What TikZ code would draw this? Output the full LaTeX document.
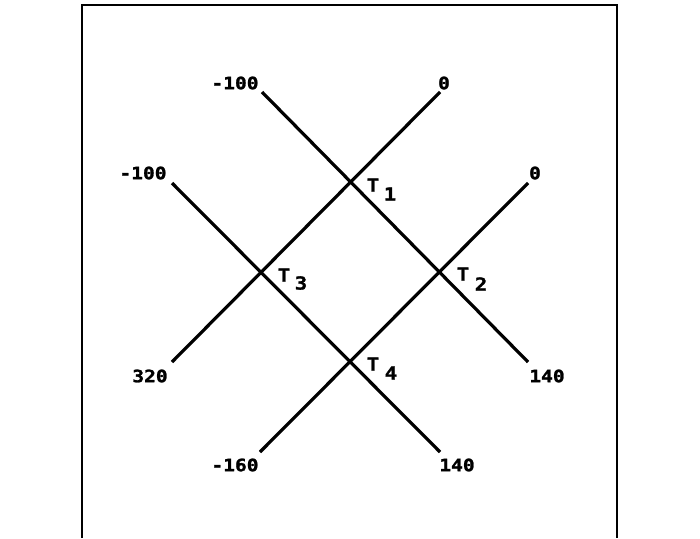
\documentclass[tikz,border=0pt]{standalone}
\usepackage{fontspec}
\newfontfamily\lblfont{DejaVu Sans Mono}[FakeStretch=1.15,FakeBold=1.5]
\begin{document}
\begin{tikzpicture}[x=1pt,y=-1pt,
  wire/.style={line width=3.2pt},
  lbl/.style={font=\lblfont\bfseries\fontsize{17}{17}\selectfont, inner sep=0pt},
  tl/.style={font=\lblfont\bfseries\fontsize{18}{18}\selectfont, inner sep=0pt}]
\useasboundingbox (0,0) rectangle (700,538);
\fill[white] (0,0) rectangle (700,538);
\draw[line width=2.4pt] (82,538) -- (82,5) -- (617,5) -- (617,538);
% end points
\coordinate (a1) at (262,92);  \coordinate (a2) at (528,362);
\coordinate (b1) at (440,92);  \coordinate (b2) at (172,362);
\coordinate (c1) at (172,183); \coordinate (c2) at (440,452);
\coordinate (d1) at (528,183); \coordinate (d2) at (260,452);
\draw[wire] (a1) -- (a2);
\draw[wire] (b1) -- (b2);
\draw[wire] (c1) -- (c2);
\draw[wire] (d1) -- (d2);
% end labels
\node[lbl] (la1) at (235,83) {-100};
\node[lbl] (lb1) at (444,83) {0};
\node[lbl] (lc1) at (143,173) {-100};
\node[lbl] (ld1) at (535,173) {0};
\node[lbl] (lb2) at (150,376) {320};
\node[lbl] (la2) at (547,376) {140};
\node[lbl] (ld2) at (235,465) {-160};
\node[lbl] (lc2) at (457,465) {140};
% crossing labels
\node[tl] (t1) at (373,185) {T};  \node[tl] (s1) at (390,194) {1};
\node[tl] (t2) at (463,274) {T};  \node[tl] (s2) at (481,284) {2};
\node[tl] (t3) at (284,275) {T};  \node[tl] (s3) at (301,283) {3};
\node[tl] (t4) at (373,364) {T};  \node[tl] (s4) at (391,373) {4};
\end{tikzpicture}
\end{document}
